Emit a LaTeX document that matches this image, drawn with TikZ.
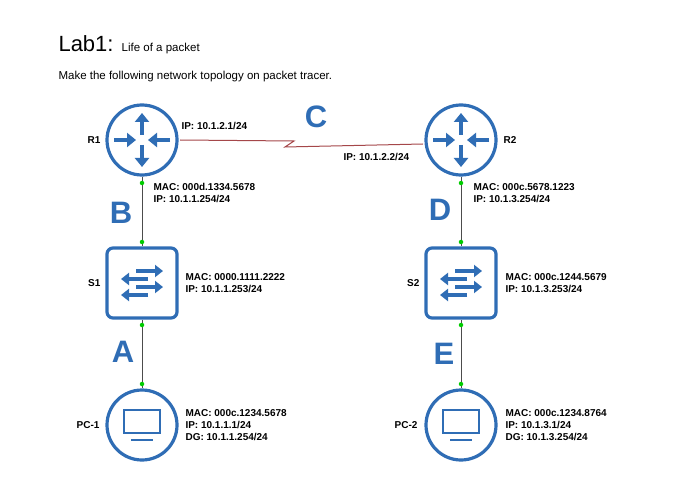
\documentclass[tikz,border=0pt]{standalone}
\usepackage{fontspec}
\setmainfont{Liberation Sans}
\usetikzlibrary{arrows.meta,calc}
\definecolor{cb}{HTML}{2F6DB5}
\definecolor{ser}{HTML}{A5474A}
\begin{document}
\begin{tikzpicture}[x=1pt,y=-1pt,
  dev/.style={draw=cb,line width=3.2pt,fill=white,inner sep=0pt},
  lab/.style={font=\fontsize{10}{12}\selectfont\bfseries,align=left,anchor=west},
  big/.style={font=\fontsize{31}{31}\selectfont\bfseries,text=cb},
  ar/.style={cb,line width=3.6pt,-{Triangle[length=9pt,width=14pt]}},
  sar/.style={cb,line width=3.4pt,-{Triangle[length=8pt,width=12pt]}},
  lnk/.style={draw=black!70,line width=0.7pt},
  dot/.style={circle,fill=green!80!black,inner sep=0pt,minimum size=4.5pt}]
\useasboundingbox (0,0) rectangle (700,486);
\node[anchor=base west,font=\fontsize{22}{24}\selectfont] (t) at (55,52) {Lab1: {\fontsize{11.5}{13}\selectfont Life of a packet}};
\node[anchor=base west,font=\fontsize{11.5}{13}\selectfont] (t2) at (55,80) {Make the following network topology on packet tracer.};
% devices
\node[dev,circle,minimum size=70pt] (r1) at (142,140) {};
\node[dev,circle,minimum size=70pt] (r2) at (461,140) {};
\node[dev,rounded corners=6pt,minimum size=70pt] (s1) at (142,283) {};
\node[dev,rounded corners=6pt,minimum size=70pt] (s2) at (461,283) {};
\node[dev,circle,minimum size=70pt] (p1) at (142,425) {};
\node[dev,circle,minimum size=70pt] (p2) at (461,425) {};
% icons
\foreach \c in {r1,r2}{
  \draw[ar] ($(\c)+(0,-5)$) -- ($(\c)+(0,-27)$);
  \draw[ar] ($(\c)+(0,5)$) -- ($(\c)+(0,27)$);
  \draw[ar] ($(\c)+(-28,0)$) -- ($(\c)+(-6,0)$);
  \draw[ar] ($(\c)+(28,0)$) -- ($(\c)+(6,0)$);
}
\foreach \c in {s1,s2}{
  \draw[sar] ($(\c)+(-6,-12)$) -- ($(\c)+(21,-12)$);
  \draw[sar] ($(\c)+(6,-4)$) -- ($(\c)+(-21,-4)$);
  \draw[sar] ($(\c)+(-6,4)$) -- ($(\c)+(21,4)$);
  \draw[sar] ($(\c)+(6,12)$) -- ($(\c)+(-21,12)$);
}
\foreach \c in {p1,p2}{
  \draw[cb,line width=2.8pt] ($(\c)+(-18,-15)$) rectangle ($(\c)+(18,8)$);
  \draw[cb,line width=2.8pt] ($(\c)+(-11,15)$) -- ($(\c)+(11,15)$);
}
% links
\coordinate (c1) at (180,140);
\coordinate (z1) at (294,141);
\coordinate (z2) at (285,147);
\coordinate (c2) at (423,144);
\draw[ser,line width=1pt] (c1) -- (z1) -- (z2) -- (c2);
\draw[lnk] (r1) -- (s1);
\draw[lnk] (s1) -- (p1);
\draw[lnk] (r2) -- (s2);
\draw[lnk] (s2) -- (p2);
\foreach \x in {142,461}{
  \node[dot] (d) at (\x,183) {};
  \node[dot] (d) at (\x,242) {};
  \node[dot] (d) at (\x,325) {};
  \node[dot] (d) at (\x,384) {};
}
% labels
\node[lab,anchor=east] (lr1) at (104,140) {R1};
\node[lab] (lr2) at (500,140) {R2};
\node[lab,anchor=east] (ls1) at (104,283) {S1};
\node[lab,anchor=east] (ls2) at (423,283) {S2};
\node[lab,anchor=east] (lp1) at (103,425) {PC-1};
\node[lab,anchor=east] (lp2) at (421,425) {PC-2};
\node[lab] (i1) at (178,126) {IP: 10.1.2.1/24};
\node[lab] (i2) at (340,157) {IP: 10.1.2.2/24};
\node[lab] (m1) at (150,193) {MAC: 000d.1334.5678\\IP: 10.1.1.254/24};
\node[lab] (m2) at (470,193) {MAC: 000c.5678.1223\\IP: 10.1.3.254/24};
\node[lab] (m3) at (182,283) {MAC: 0000.1111.2222\\IP: 10.1.1.253/24};
\node[lab] (m4) at (502,283) {MAC: 000c.1244.5679\\IP: 10.1.3.253/24};
\node[lab] (m5) at (182,425) {MAC: 000c.1234.5678\\IP: 10.1.1.1/24\\DG: 10.1.1.254/24};
\node[lab] (m6) at (502,425) {MAC: 000c.1234.8764\\IP: 10.1.3.1/24\\DG: 10.1.3.254/24};
\node[big] (B) at (121,213) {B};
\node[big] (C) at (316,117) {C};
\node[big] (D) at (440,210) {D};
\node[big] (A) at (123,352) {A};
\node[big] (E) at (444,354) {E};
\end{tikzpicture}
\end{document}
